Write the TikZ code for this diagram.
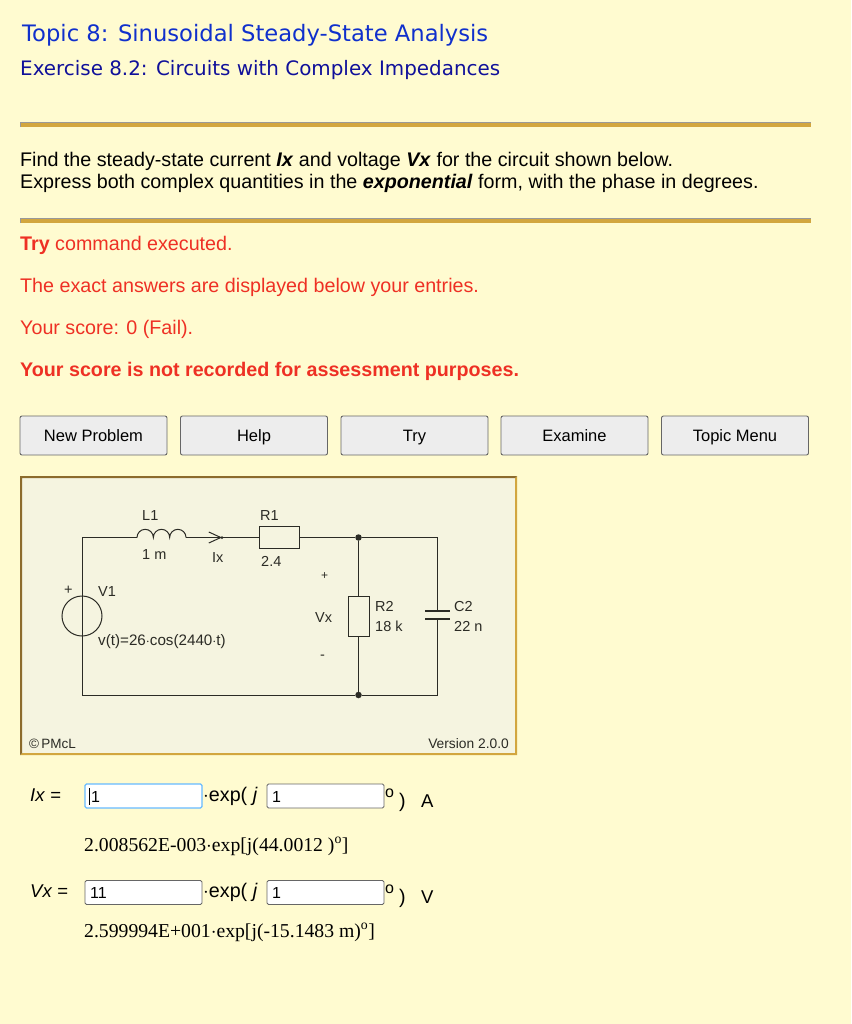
\documentclass[tikz,border=0pt]{standalone}
\usepackage{fontspec}
\setmainfont{Liberation Sans}
\newfontfamily\titlefont{DejaVu Sans}
\newfontfamily\answerfont{Liberation Serif}
\usetikzlibrary{arrows.meta}

\definecolor{pagebg}{HTML}{FFFBD0}
\definecolor{circbg}{HTML}{F5F4E0}
\definecolor{golden}{HTML}{D2A63F}
\definecolor{darkgold}{HTML}{8C6B2C}
\definecolor{titleblue}{HTML}{1030CC}
\definecolor{subblue}{HTML}{10109A}
\definecolor{msgred}{HTML}{EE3024}
\definecolor{wirecol}{HTML}{2B2B25}

\tikzset{
    txt/.style={anchor=base west,inner sep=0pt,font=\fontsize{19.7}{22}\selectfont},
    msg/.style={txt,text=msgred},
    btn/.style={draw=black!60,line width=0.9pt,fill=black!7,rounded corners=2pt,minimum width=147pt,minimum height=39pt,inner sep=0pt,text height=12pt,text depth=0pt,font=\fontsize{16.5}{18}\selectfont},
    lbl/.style={anchor=base west,inner sep=0pt,text=wirecol,font=\fontsize{14.5}{16}\selectfont},
    wire/.style={draw=wirecol,line width=1pt},
    part/.style={wire,fill=none,inner sep=0pt},
    junc/.style={circle,fill=wirecol,inner sep=0pt,minimum size=6.5pt},
    inbox/.style={draw=black!60,line width=0.9pt,fill=white,rounded corners=1.5pt,minimum width=117pt,minimum height=24pt,inner sep=0pt},
    intxt/.style={anchor=base west,inner sep=0pt,font=\fontsize{16}{18}\selectfont},
    ans/.style={anchor=base west,inner sep=0pt,font=\answerfont\fontsize{19.7}{22}\selectfont},
}

\begin{document}
\begin{tikzpicture}[x=1pt,y=-1pt]

    \fill[pagebg] (0,0) rectangle (851,1024);
    \useasboundingbox (0,0) rectangle (851,1024);

    % headings
    \node[txt,text=titleblue,font=\titlefont\fontsize{22.65}{25}\selectfont] (title) at (22,42) {Topic 8: Sinusoidal Steady-State Analysis};
    \node[txt,text=subblue,font=\titlefont\fontsize{19.9}{22}\selectfont] (subtitle) at (20,76) {Exercise 8.2: Circuits with Complex Impedances};

    % rules
    \foreach \y in {122,218} {
        \fill[black!40] (20,\y) rectangle (811,\y+5);
        \fill[golden] (21,\y+1) rectangle (811,\y+5);
    }

    \node[txt] (find) at (20,167) {Find the steady-state current \textbf{\textit{Ix}} and voltage \textbf{\textit{Vx}} for the circuit shown below.};
    \node[txt] (express) at (20,189) {Express both complex quantities in the \textbf{\textit{exponential}} form, with the phase in degrees.};

    \node[msg] (try) at (20,250) {\textbf{Try} command executed.};
    \node[msg] (exact) at (20,292) {The exact answers are displayed below your entries.};
    \node[msg] (score) at (20,334) {Your score: 0 (Fail).};
    \node[msg] (record) at (20,376) {\textbf{Your score is not recorded for assessment purposes.}};

    % buttons
    \foreach \x/\t [count=\n] in {93.5/New Problem,254/Help,414.5/Try,574.5/Examine,735/Topic Menu}
    \node[btn] (btn\n) at (\x,435.5) {\t};

    % circuit panel
    \fill[circbg] (20,476) rectangle (517,755);
    \fill[golden] (20,755) -- (517,755) -- (517,476) -- (515,478) -- (515,753) -- (22,753) -- cycle;
    \fill[darkgold] (20,755) -- (20,476) -- (517,476) -- (515,478) -- (22,478) -- (22,753) -- cycle;

    \coordinate (tl) at (82,537.5);
    \coordinate (bl) at (82,695);
    \coordinate (tr) at (437.5,537.5);
    \coordinate (br) at (437.5,695);
    \coordinate (la) at (137,537.5);
    \coordinate (lb) at (186,537.5);
    \coordinate (ixtip) at (222,537.5);
    \coordinate (c2a) at (437.5,611);
    \coordinate (c2b) at (437.5,619);

    \node[part,draw,circle,minimum size=40pt] (v1) at (82,616) {};
    \node[part,draw,minimum width=40pt,minimum height=22pt] (r1) at (279,537.5) {};
    \node[part,draw,minimum width=21pt,minimum height=40pt] (r2) at (358.5,616) {};
    \node[junc] (j1) at (358.5,537.5) {};
    \node[junc] (j2) at (358.5,695) {};
    \node[junc,minimum size=3pt] (ixdot) at (ixtip) {};

    \draw[wire] (v1.center) -- (tl) -- (la);
    \draw[wire] (v1.center) -- (bl) -- (j2) -- (br) -- (c2b);
    \draw[wire] (la) arc[start angle=180,end angle=360,radius=8.17] arc[start angle=180,end angle=360,radius=8.17] arc[start angle=180,end angle=360,radius=8.17];
    \draw[wire,-{Straight Barb[length=12pt,width=11pt]}] (lb) -- (ixtip);
    \draw[wire] (ixtip) -- (r1.west);
    \draw[wire] (r1.east) -- (j1) -- (tr) -- (c2a);
    \draw[wire] (j1) -- (r2.north);
    \draw[wire] (r2.south) -- (j2);
    \draw[wire,line width=2pt] ([xshift=-12.5pt]c2a) -- ([xshift=12.5pt]c2a);
    \draw[wire,line width=2pt] ([xshift=-12.5pt]c2b) -- ([xshift=12.5pt]c2b);

    \node[lbl] (l1lbl) at (142,520) {L1};
    \node[lbl] (l1val) at (142,559) {1 m};
    \node[lbl] (ixlbl) at (212,562) {Ix};
    \node[lbl] (r1lbl) at (260,520) {R1};
    \node[lbl] (r1val) at (261,566) {2.4};
    \node[lbl] (v1lbl) at (98,596) {V1};
    \node[lbl] (v1plus) at (64,594) {+};
    \node[lbl,font=\fontsize{15.2}{17}\selectfont] (v1val) at (98,645) {v(t)=26$\cdot$cos(2440$\cdot$t)};
    \node[lbl,font=\fontsize{12}{14}\selectfont] (vxplus) at (321,579) {+};
    \node[lbl] (vxlbl) at (315,622) {Vx};
    \node[lbl] (vxminus) at (320,659) {-};
    \node[lbl] (r2lbl) at (375,611) {R2};
    \node[lbl] (r2val) at (375,631) {18 k};
    \node[lbl] (c2lbl) at (454,611) {C2};
    \node[lbl] (c2val) at (454,631) {22 n};
    \node[lbl,font=\fontsize{13.5}{15}\selectfont] (pmcl) at (29,748) {©\,PMcL};
    \node[lbl,font=\fontsize{13.8}{15}\selectfont,anchor=base east] (version) at (509,748) {Version 2.0.0};

    % answer rows
    \node[inbox,draw=blue!45!cyan!60,line width=1.3pt] (ixmag) at (143.5,796) {};
    \node[inbox] (ixang) at (325.5,796) {};
    \node[inbox] (vxmag) at (143.5,892.5) {};
    \node[inbox] (vxang) at (325.5,892.5) {};

    \node[intxt] (ixmagtxt) at (91,802) {1};
    \draw[black] (89.5,788) -- (89.5,805);
    \node[intxt] (ixangtxt) at (272,802) {1};
    \node[intxt] (vxmagtxt) at (90,898) {11};
    \node[intxt] (vxangtxt) at (272,898) {1};

    \node[txt,font=\fontsize{18.5}{20}\selectfont] (ixeq) at (30,801) {\textit{Ix} =};
    \node[txt,font=\fontsize{18.5}{20}\selectfont] (vxeq) at (30,897) {\textit{Vx} =};
    \foreach \y/\u/\ux [count=\n] in {801/A/421,897/V/421} {
        \node[txt] (exp\n) at (203,\y) {$\cdot$exp( \textit{j}};
        \node[txt,font=\fontsize{16}{18}\selectfont] (deg\n) at (385,\y-4) {o};
        \node[txt] (par\n) at (399,\y+6) {)};
        \node[txt,font=\fontsize{18.5}{20}\selectfont] (unit\n) at (\ux,\y+6) {\u};
    }

    \node[ans] (ixans) at (84,851) {2.008562E-003$\cdot$exp[j(44.0012 )\textsuperscript{o}]};
    \node[ans] (vxans) at (84,937) {2.599994E+001$\cdot$exp[j(-15.1483 m)\textsuperscript{o}]};

\end{tikzpicture}
\end{document}
